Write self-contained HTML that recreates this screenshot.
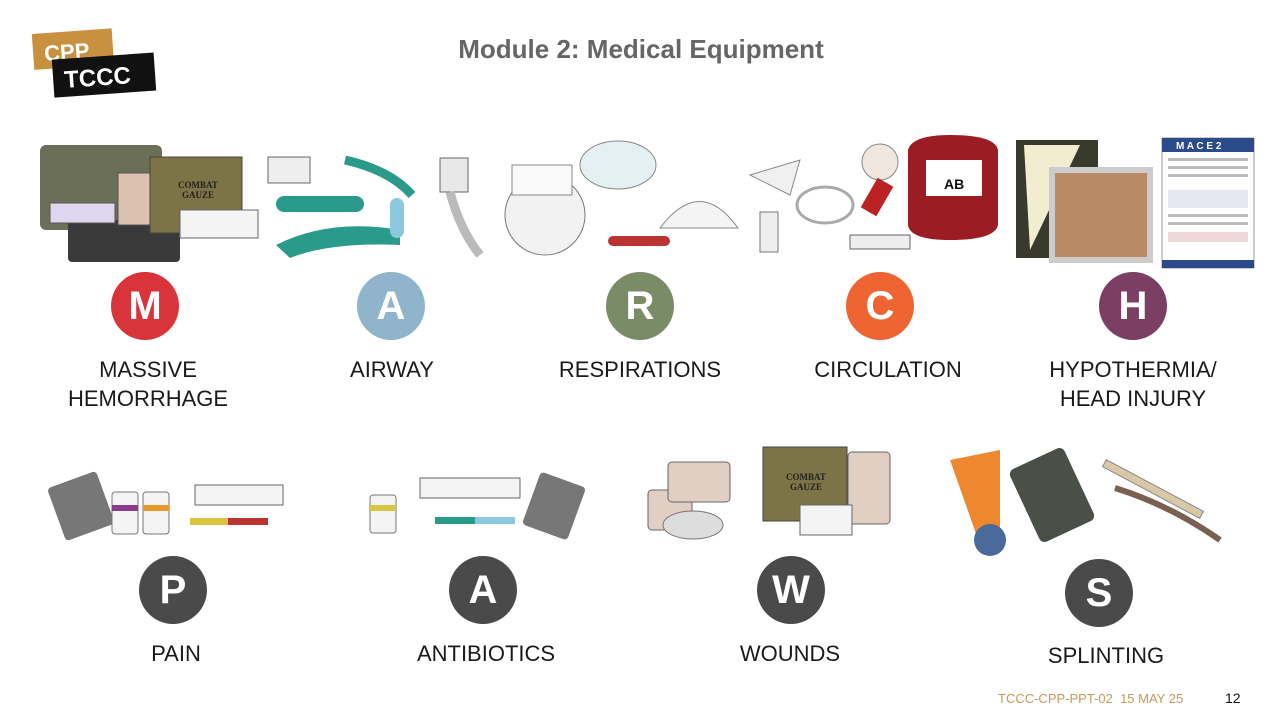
<!DOCTYPE html>
<html><head><meta charset="utf-8"><style>
body{margin:0;width:1280px;height:720px;background:#fff;position:relative;overflow:hidden;font-family:"Liberation Sans",sans-serif}
.t{position:absolute;font-size:22px;color:#1a1a1a;text-align:center;line-height:29px;transform:translateX(-50%);white-space:nowrap}
.c{position:absolute;width:68px;height:68px;border-radius:50%;color:#fff;font-weight:bold;font-size:40px;line-height:68px;text-align:center;transform:translate(-50%,-50%)}
svg{position:absolute;left:0;top:0}
</style></head><body>
<svg width="1280" height="720">
<!-- logo -->
<g transform="rotate(-4 75 50)"><rect x="33" y="31" width="80" height="36" fill="#c8913f"/>
<text x="44" y="59" fill="#fff" font-family="Liberation Sans" font-weight="bold" font-size="22">CPP</text></g>
<g transform="rotate(-4 105 75)"><rect x="53" y="56" width="102" height="38" fill="#111"/>
<text x="64" y="85" fill="#fff" font-family="Liberation Sans" font-weight="bold" font-size="24">TCCC</text></g>
<!-- row 1 illustrations -->
<rect x="40" y="145" width="122" height="85" rx="6" fill="#6b6f58"/>
<rect x="68" y="220" width="112" height="42" rx="4" fill="#3a3a3a"/>
<rect x="50" y="203" width="65" height="20" fill="#ddd6ee" stroke="#555"/>
<rect x="118" y="173" width="32" height="52" fill="#dcc0b0" stroke="#555"/>
<rect x="150" y="157" width="92" height="76" fill="#7c7346" stroke="#444"/>
<text x="178" y="188" font-size="9" font-weight="bold" fill="#222" font-family="Liberation Serif">COMBAT</text>
<text x="182" y="198" font-size="9" font-weight="bold" fill="#222" font-family="Liberation Serif">GAUZE</text>
<rect x="180" y="210" width="78" height="28" fill="#f4f4f4" stroke="#666"/>
<rect x="268" y="157" width="42" height="26" fill="#eee" stroke="#666"/>
<rect x="276" y="196" width="88" height="16" rx="8" fill="#2a9a8a"/>
<path d="M276 245 Q330 218 400 230 L400 245 Q330 242 290 258 Z" fill="#2a9a8a"/>
<path d="M345 160 Q390 170 412 195" stroke="#2a9a8a" stroke-width="9" fill="none"/>
<rect x="390" y="198" width="14" height="40" rx="7" fill="#8cc8e0"/>
<rect x="440" y="158" width="28" height="34" fill="#e8e8e8" stroke="#666"/>
<path d="M450 192 Q460 230 480 255" stroke="#bbb" stroke-width="9" fill="none"/>
<circle cx="545" cy="215" r="40" fill="#f2f2f2" stroke="#777"/>
<rect x="512" y="165" width="60" height="30" fill="#fafafa" stroke="#888"/>
<ellipse cx="618" cy="165" rx="38" ry="24" fill="#e4f0f4" stroke="#888"/>
<path d="M660 228 Q700 175 738 228 Z" fill="#f4f4f4" stroke="#888"/>
<rect x="608" y="236" width="62" height="10" rx="5" fill="#b33"/>
<path d="M750 175 L800 160 L790 195 Z" fill="#f0f0f0" stroke="#888"/>
<ellipse cx="825" cy="205" rx="28" ry="18" fill="none" stroke="#aaa" stroke-width="3"/>
<circle cx="880" cy="162" r="18" fill="#f0e8e0" stroke="#888"/>
<rect x="850" y="235" width="60" height="14" fill="#eee" stroke="#666"/>
<rect x="760" y="212" width="18" height="40" fill="#eee" stroke="#777"/>
<rect x="868" y="180" width="18" height="34" fill="#b22" transform="rotate(30 877 197)"/>
<path d="M908 150 Q912 135 950 135 Q995 135 998 150 L998 225 Q995 240 950 240 Q910 240 908 225 Z" fill="#9c1c24"/>
<rect x="926" y="160" width="56" height="36" fill="#fff"/>
<text x="944" y="189" font-size="14" font-weight="bold" fill="#111">AB</text>
<rect x="1016" y="140" width="82" height="118" fill="#3a3a2c"/>
<path d="M1024 145 L1080 145 L1030 250 Z" fill="#f2ecd0"/>
<rect x="1052" y="170" width="98" height="90" fill="#b88a65" stroke="#ccc" stroke-width="6"/>
<rect x="1162" y="138" width="92" height="130" fill="#fff" stroke="#999"/>
<rect x="1162" y="138" width="92" height="14" fill="#2a4a8a"/>
<text x="1176" y="149" font-size="10" font-weight="bold" fill="#fff">M A C E 2</text>
<g fill="#bbb"><rect x="1168" y="158" width="80" height="3"/><rect x="1168" y="166" width="80" height="3"/><rect x="1168" y="174" width="80" height="3"/><rect x="1168" y="190" width="80" height="18" fill="#e6e6f0"/><rect x="1168" y="214" width="80" height="3"/><rect x="1168" y="222" width="80" height="3"/><rect x="1168" y="232" width="80" height="10" fill="#f0d8d8"/></g>
<rect x="1162" y="260" width="92" height="8" fill="#2a4a8a"/>
<!-- row 2 -->
<rect x="55" y="478" width="52" height="56" rx="4" fill="#777" transform="rotate(-20 81 506)"/>
<rect x="112" y="492" width="26" height="42" rx="3" fill="#f4f4f4" stroke="#777"/>
<rect x="112" y="505" width="26" height="6" fill="#8a3a8a"/>
<rect x="143" y="492" width="26" height="42" rx="3" fill="#f4f4f4" stroke="#777"/>
<rect x="143" y="505" width="26" height="6" fill="#e59a2a"/>
<rect x="195" y="485" width="88" height="20" fill="#f4f4f4" stroke="#666"/>
<rect x="190" y="518" width="40" height="7" fill="#d8c640"/><rect x="228" y="518" width="40" height="7" fill="#b33"/>
<rect x="370" y="495" width="26" height="38" rx="3" fill="#f4f4f4" stroke="#777"/>
<rect x="370" y="505" width="26" height="6" fill="#d8c640"/>
<rect x="420" y="478" width="100" height="20" fill="#f4f4f4" stroke="#666"/>
<rect x="435" y="517" width="40" height="7" fill="#2a9a8a"/><rect x="475" y="517" width="40" height="7" fill="#8cc8e0"/>
<rect x="530" y="478" width="48" height="56" rx="4" fill="#777" transform="rotate(20 554 506)"/>
<rect x="648" y="490" width="44" height="40" rx="4" fill="#e2cfc4" stroke="#666"/>
<rect x="668" y="462" width="62" height="40" rx="4" fill="#e2cfc4" stroke="#666"/>
<ellipse cx="693" cy="525" rx="30" ry="14" fill="#ddd" stroke="#777"/>
<rect x="763" y="447" width="84" height="74" fill="#7c7346" stroke="#444"/>
<text x="786" y="480" font-size="9" font-weight="bold" fill="#222" font-family="Liberation Serif">COMBAT</text>
<text x="790" y="490" font-size="9" font-weight="bold" fill="#222" font-family="Liberation Serif">GAUZE</text>
<rect x="848" y="452" width="42" height="72" rx="4" fill="#e2cfc4" stroke="#666"/>
<rect x="800" y="505" width="52" height="30" fill="#f4f4f4" stroke="#666"/>
<path d="M950 460 L1000 450 L1000 530 L980 545 Z" fill="#ee8830"/>
<circle cx="990" cy="540" r="16" fill="#4a6a9a"/>
<rect x="1022" y="455" width="60" height="80" rx="6" fill="#4a5048" transform="rotate(-25 1052 495)"/>
<rect x="1098" y="485" width="110" height="8" fill="#d8c8a8" stroke="#888" transform="rotate(28 1153 489)"/>
<path d="M1115 488 Q1170 505 1220 540" stroke="#7a6050" stroke-width="6" fill="none"/>
</svg>
<div style="position:absolute;left:0;width:1282px;top:34px;text-align:center;font-size:26px;font-weight:bold;color:#666">Module 2: Medical Equipment</div>
<div class="c" style="left:145px;top:306px;background:#d9343a">M</div>
<div class="c" style="left:391px;top:306px;background:#8fb4cc">A</div>
<div class="c" style="left:640px;top:306px;background:#7a8c67">R</div>
<div class="c" style="left:880px;top:306px;background:#ee6432">C</div>
<div class="c" style="left:1133px;top:306px;background:#7a3f62">H</div>
<div class="c" style="left:173px;top:590px;background:#4a4a4a">P</div>
<div class="c" style="left:483px;top:590px;background:#4a4a4a">A</div>
<div class="c" style="left:791px;top:590px;background:#4a4a4a">W</div>
<div class="c" style="left:1099px;top:593px;background:#4a4a4a">S</div>
<div class="t" style="left:148px;top:355px">MASSIVE<br>HEMORRHAGE</div>
<div class="t" style="left:392px;top:355px">AIRWAY</div>
<div class="t" style="left:640px;top:355px">RESPIRATIONS</div>
<div class="t" style="left:888px;top:355px">CIRCULATION</div>
<div class="t" style="left:1133px;top:355px">HYPOTHERMIA/<br>HEAD INJURY</div>
<div class="t" style="left:176px;top:639px">PAIN</div>
<div class="t" style="left:486px;top:639px">ANTIBIOTICS</div>
<div class="t" style="left:790px;top:639px">WOUNDS</div>
<div class="t" style="left:1106px;top:641px">SPLINTING</div>
<div style="position:absolute;left:998px;top:691px;font-size:13px;color:#c8975a">TCCC-CPP-PPT-02&nbsp; 15 MAY 25</div>
<div style="position:absolute;left:1225px;top:690px;font-size:14px;color:#111">12</div>
</body></html>
